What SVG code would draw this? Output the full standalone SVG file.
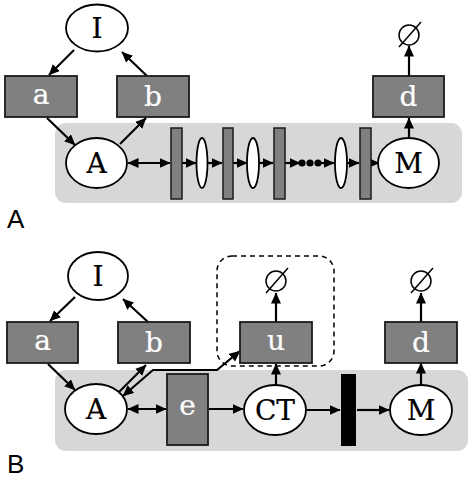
<svg xmlns="http://www.w3.org/2000/svg" width="474" height="479" viewBox="0 0 474 479">
<defs>
<marker id="ah" viewBox="0 0 11 10" refX="10.5" refY="5" markerWidth="11" markerHeight="10" markerUnits="userSpaceOnUse" orient="auto-start-reverse">
<path d="M0,0 L11,5 L0,10 z" fill="#000"/>
</marker>
</defs>
<style>
.panel{fill:#d6d7d6;}
.box{fill:#808080;stroke:#1a1a1a;stroke-width:1.8;}
.ell{fill:#fff;stroke:#000;stroke-width:1.8;}
.bar{fill:#808080;stroke:#1a1a1a;stroke-width:1.5;}
.t{font-family:"DejaVu Serif","Liberation Serif",serif;font-size:28px;text-anchor:middle;stroke-width:0.2;}
.tb{fill:#fff;stroke:#fff;}
.tk{fill:#000;stroke:#000;}
.lbl{font-family:"Liberation Sans",Arial,sans-serif;font-size:26px;fill:#000;}
.c{fill:none;stroke:#000;stroke-width:2.2;}
.a{marker-end:url(#ah);}
.ab{marker-start:url(#ah);marker-end:url(#ah);}
.null{fill:none;stroke:#000;stroke-width:1.5;}
</style>

<rect class="panel" x="55" y="123" width="407" height="80" rx="11"/>
<rect class="panel" x="55" y="370" width="413" height="81" rx="11"/>

<g id="connectors">
<line class="c a" x1="74" y1="50" x2="49" y2="75"/>
<line class="c a" x1="147" y1="76" x2="122" y2="52"/>
<line class="c a" x1="47" y1="118" x2="75" y2="145"/>
<line class="c a" x1="120" y1="144" x2="146" y2="118"/>
<line class="c ab" x1="128" y1="163" x2="170" y2="163"/>
<line class="c a" x1="182" y1="163" x2="196" y2="163"/>
<line class="c a" x1="208" y1="163" x2="222" y2="163"/>
<line class="c a" x1="233" y1="163" x2="247" y2="163"/>
<line class="c a" x1="259" y1="163" x2="273" y2="163"/>
<line class="c a" x1="285" y1="163" x2="300" y2="163"/>
<line class="c a" x1="318" y1="163" x2="334" y2="163"/>
<line class="c a" x1="347" y1="163" x2="359" y2="163"/>
<line class="c a" x1="366" y1="163" x2="379" y2="163"/>
<line class="c a" x1="409" y1="138" x2="409" y2="118"/>
<line class="c a" x1="409" y1="76" x2="409" y2="46"/>

<line class="c a" x1="75" y1="297" x2="50" y2="321"/>
<line class="c a" x1="148" y1="322" x2="123" y2="299"/>
<line class="c a" x1="48" y1="364" x2="75" y2="390"/>
<line class="c a" x1="119" y1="392" x2="146" y2="365"/>
<polyline class="c ab" points="123,396 153,370 217,370 240,351"/>
<line class="c ab" x1="128" y1="409" x2="166" y2="409"/>
<line class="c a" x1="209" y1="409" x2="243" y2="409"/>
<line class="c a" x1="307" y1="410" x2="340" y2="410"/>
<line class="c a" x1="357" y1="410" x2="389" y2="410"/>
<line class="c a" x1="276" y1="385" x2="276" y2="364"/>
<line class="c a" x1="276" y1="322" x2="276" y2="293"/>
<line class="c a" x1="421" y1="385" x2="421" y2="363"/>
<line class="c a" x1="421" y1="322" x2="421" y2="293"/>
</g>

<g id="chainA">
<rect class="bar" x="171" y="128" width="11" height="71"/>
<ellipse class="ell" cx="202" cy="163" rx="5.5" ry="25"/>
<rect class="bar" x="223" y="128" width="10" height="71"/>
<ellipse class="ell" cx="253" cy="163" rx="6" ry="25"/>
<rect class="bar" x="274" y="128" width="11" height="71"/>
<circle cx="302" cy="163" r="3.6"/>
<circle cx="310" cy="163" r="3.6"/>
<circle cx="318" cy="163" r="3.6"/>
<ellipse class="ell" cx="341" cy="163" rx="6" ry="25"/>
<rect class="bar" x="360" y="128" width="11" height="71"/>
</g>

<g id="A-I"><ellipse class="ell" cx="97" cy="28" rx="31" ry="23.5"/><text class="t tk" x="97" y="38">I</text></g>
<g id="A-a"><rect class="box" x="5" y="76" width="72" height="41"/><text class="t tb" x="41" y="104">a</text></g>
<g id="A-b"><rect class="box" x="117" y="76" width="72" height="41"/><text class="t tb" x="153" y="106">b</text></g>
<g id="A-A"><ellipse class="ell" cx="96.5" cy="163" rx="30.5" ry="25"/><text class="t tk" x="96.5" y="173">A</text></g>
<g id="A-M"><ellipse class="ell" cx="408.5" cy="163" rx="30.5" ry="25"/><text class="t tk" x="408.5" y="173">M</text></g>
<g id="A-d"><rect class="box" x="373" y="76" width="71" height="41"/><text class="t tb" x="408.5" y="106">d</text></g>
<g id="A-null"><circle class="null" cx="409" cy="35" r="10"/><line class="null" x1="399" y1="47" x2="421" y2="22"/></g>

<g id="B-I"><ellipse class="ell" cx="98" cy="276" rx="30" ry="24"/><text class="t tk" x="98" y="286">I</text></g>
<g id="B-a"><rect class="box" x="7" y="322" width="71" height="41"/><text class="t tb" x="42.5" y="350">a</text></g>
<g id="B-b"><rect class="box" x="118" y="322" width="72" height="41"/><text class="t tb" x="154" y="352">b</text></g>
<g id="B-A"><ellipse class="ell" cx="96" cy="409" rx="31" ry="25"/><text class="t tk" x="96" y="419">A</text></g>
<g id="B-e"><rect class="box" x="167" y="374" width="41" height="71"/><text class="t tb" x="187.5" y="415">e</text></g>
<g id="B-CT"><ellipse class="ell" cx="275" cy="410" rx="31" ry="25"/><text class="t tk" x="275" y="420">CT</text></g>
<g id="B-bar"><rect x="341" y="374" width="15" height="72" fill="#000"/></g>
<g id="B-M"><ellipse class="ell" cx="421" cy="410" rx="31" ry="25"/><text class="t tk" x="421" y="420">M</text></g>
<g id="B-u"><rect class="box" x="240" y="322" width="72" height="41"/><text class="t tb" x="276" y="350">u</text></g>
<g id="B-d"><rect class="box" x="385" y="322" width="72" height="41"/><text class="t tb" x="421" y="352">d</text></g>
<g id="B-null-u"><circle class="null" cx="276" cy="281" r="10"/><line class="null" x1="266" y1="293" x2="288" y2="268"/></g>
<g id="B-null-d"><circle class="null" cx="421" cy="281" r="10"/><line class="null" x1="411" y1="293" x2="433" y2="268"/></g>
<g id="B-group"><rect x="217" y="256" width="117" height="110" rx="15" fill="none" stroke="#000" stroke-width="1.5" stroke-dasharray="5,4"/></g>

<text class="lbl" x="7" y="228">A</text>
<text class="lbl" x="7" y="473">B</text>
</svg>
